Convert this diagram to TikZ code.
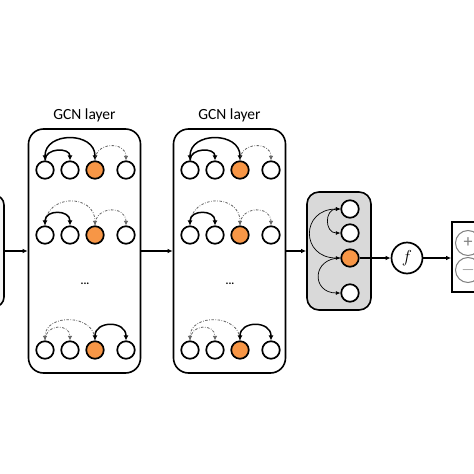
\documentclass[tikz,border=0pt]{standalone}
\usepackage{fontspec}
\setmainfont{Carlito}
\usetikzlibrary{arrows.meta}
\definecolor{orng}{RGB}{247,150,70}
\definecolor{boxgray}{RGB}{217,217,217}
\definecolor{dashgray}{RGB}{100,100,100}
\tikzset{
  nd/.style={circle,draw,line width=1.7pt,minimum size=17.5pt,inner sep=0pt,fill=white},
  hot/.style={nd,fill=orng},
  layerbox/.style={draw,line width=1.6pt,rounded corners=15pt,minimum width=112pt,minimum height=244pt,fill=white,inner sep=0pt},
  sarc/.style={line width=1.5pt,>={Latex[length=5pt,width=5pt]}},
  darc/.style={dashgray,line width=0.8pt,dash pattern=on 2.5pt off 1.5pt on 0.7pt off 1.5pt,>={Latex[length=4.5pt,width=4.5pt]}},
  tarc/.style={line width=0.7pt,>={Latex[length=4.5pt,width=4pt]}},
  conn/.style={line width=1.2pt,-{Latex[length=5pt,width=4.5pt]}},
  ttl/.style={font=\fontsize{15.5}{18}\selectfont,inner sep=0pt},
}
\newcommand\gcnlayer[2]{%
  \begin{scope}[xshift=#2]
    \node[layerbox] (#1box) at (84.5,251) {};
    \node[ttl] (#1title) at (84.5,115) {GCN layer};
    \node[nd]  (#1a1) at (45,170) {};
    \node[nd]  (#1a2) at (70,170) {};
    \node[hot] (#1a3) at (95,170) {};
    \node[nd]  (#1a4) at (126,170) {};
    \node[nd]  (#1b1) at (45,235) {};
    \node[nd]  (#1b2) at (70,235) {};
    \node[hot] (#1b3) at (95,235) {};
    \node[nd]  (#1b4) at (126,235) {};
    \node[nd]  (#1c1) at (45,350) {};
    \node[nd]  (#1c2) at (70,350) {};
    \node[hot] (#1c3) at (95,350) {};
    \node[nd]  (#1c4) at (126,350) {};
    \node[font=\bfseries\fontsize{11}{12}\selectfont,inner sep=0pt] (#1dots) at (85,284) {...};
    % row 1
    \draw[sarc,<->] (#1a1.north) .. controls +(0,-29) and +(0,-29) .. (#1a3.north);
    \draw[sarc,->] (#1a1.north) .. controls +(0,-13) and +(0,-13) .. (#1a2.north);
    \draw[darc,->] (#1a3.north) .. controls +(0,-19) and +(0,-19) .. (#1a4.north);
    % row 2
    \draw[darc,->] (#1b1.north) .. controls +(0,-32) and +(0,-32) .. (#1b3.north);
    \draw[sarc,<->] (#1b1.north) .. controls +(0,-16) and +(0,-16) .. (#1b2.north);
    \draw[darc,->] (#1b3.north) .. controls +(0,-20) and +(0,-20) .. (#1b4.north);
    % row 3
    \draw[darc,->] (#1c3.north) .. controls +(0,-27) and +(0,-27) .. (#1c1.north);
    \draw[darc,->] (#1c1.north) .. controls +(0,-17) and +(0,-17) .. (#1c2.north);
    \draw[sarc,<->] (#1c3.north) .. controls +(0,-20) and +(0,-20) .. (#1c4.north);
  \end{scope}}
\begin{document}
\begin{tikzpicture}[x=1pt,y=-1pt]
  \useasboundingbox (0,0) rectangle (474,474);
  % left partial box
  \node[draw,line width=1.6pt,rounded corners=10pt,fill=gray!8,minimum width=64pt,minimum height=112pt,inner sep=0pt] (inp) at (-28,251) {};
  \gcnlayer{L}{0}
  \gcnlayer{M}{145}
  % aggregation box
  \node[draw,line width=1.6pt,rounded corners=12pt,fill=boxgray,minimum width=64pt,minimum height=118pt,inner sep=0pt] (agg) at (339,251) {};
  \node[nd]  (t1) at (350,209) {};
  \node[nd]  (t2) at (350,233) {};
  \node[hot] (t3) at (350,258) {};
  \node[nd]  (t4) at (350,293) {};
  \draw[tarc,<->] (t3.west) .. controls +(-40,0) and +(-40,0) .. (t1.west);
  \draw[tarc,<->] (t2.west) .. controls +(-16,0) and +(-16,0) .. (t1.west);
  \draw[tarc,->] (t3.west) .. controls +(-29,0) and +(-29,0) .. (t4.west);
  % f
  \node[circle,draw,line width=1.7pt,minimum size=31pt,inner sep=0pt] (f) at (407,258) {\fontsize{17}{17}\selectfont$f$};
  % output box
  \node[draw,line width=1.6pt,minimum width=36pt,minimum height=70pt,inner sep=0pt] (out) at (470,257) {};
  \node[circle,draw=gray,line width=1pt,minimum size=25pt,inner sep=0pt,text=gray,font=\fontsize{18}{18}\selectfont] (plus) at (468,243) {+};
  \node[circle,draw=gray,line width=1pt,minimum size=25pt,inner sep=0pt,text=gray,font=\fontsize{18}{18}\selectfont] (minus) at (468,270) {$-$};
  % connectors
  \draw[conn] (inp.east) -- (Lbox.west);
  \draw[conn] (Lbox.east) -- (Mbox.west);
  \draw[conn] (Mbox.east) -- (agg.west);
  \draw[conn] (t3.east) -- (f.west);
  \draw[conn] (f.east) -- (f.east -| out.west);
\end{tikzpicture}
\end{document}
